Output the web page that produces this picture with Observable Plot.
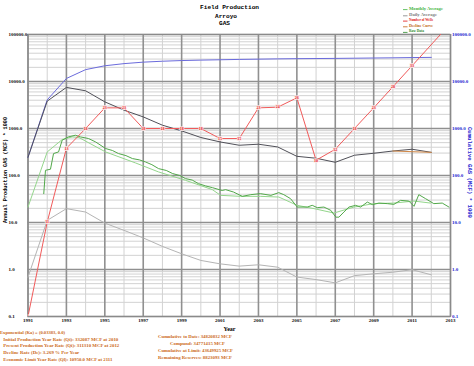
<!DOCTYPE html>
<html><head><meta charset="utf-8">
<script src="https://cdn.jsdelivr.net/npm/d3@7"></script>
<script src="https://cdn.jsdelivr.net/npm/@observablehq/plot@0.6"></script>
<style>
body{margin:0;background:#fff;}
#wrap{position:relative;width:474px;height:366px;overflow:hidden;background:#fff;}
#wrap svg{position:absolute;left:0;top:0;}
</style></head><body><div id="wrap"></div>
<script>
// ---- data ----
const years = [1991,1992,1993,1994,1995,1996,1997,1998,1999,2000,2001,2002,2003,2004,2005,2006,2007,2008,2009,2010,2011,2012];
const annualProd = [244,3820,7490,6340,3690,2455,1766,1176,889,643,518,440,463,405,256,233,191,270,297,332,362,311];
const cumulative = [244,4060,11600,17900,21600,24000,25800,27000,27900,28500,29000,29500,29900,30300,30600,30800,31000,31300,31600,31900,32300,32600];
const dailyAvg = [0.685,11.1,19.7,16.7,9.7,6.8,4.7,3.1,2.16,1.56,1.32,1.18,1.26,1.12,0.69,0.61,0.52,0.74,0.81,0.875,0.99,0.77];
const wellYears = [1991,1992,1993,1994,1995,1996,1997,1998,1999,2000,2001,2002,2003,2004,2005,2006,2007,2008,2009,2010,2011,2013];
const wellPlot = [0.1,10.2,380,1000,2750,2750,1000,1000,1000,1000,612,612,2750,2840,4490,211,362,1000,2750,7710,21600,172000];
const wellLabels = ["1","11","13","18","23","23","18","18","18","18","15","15","23","24","26","10","12","18","23","28","33",""];
const monthlyT = [1991.0,1992.0,1992.78,1993.3,1993.65,1995.04,1996.6,1997.8,1999.2,2000.6,2001.03,2002.07,2003.1,2004.06,2005.02,2005.9,2006.93,2007.97,2009.0,2010.05,2011.1,2011.96];
const monthlyAvg = [21.3,317,582,662,643,317,185,119,79,50,37.8,36.0,36.0,34.8,23.2,19.7,15.9,21.3,25.2,25.9,28.6,25.9];
const rawT = [1991.82,1991.91,1992.17,1992.33,1992.59,1992.78,1993.1,1993.47,1993.73,1994.15,1994.52,1995.04,1995.4,1995.71,1996.1,1996.44,1996.8,1997.12,1997.45,1997.8,1998.2,1998.53,1998.9,1999.2,1999.55,1999.88,2000.25,2000.61,2001.11,2001.29,2001.7,2002.16,2002.6,2003.1,2003.65,2004.06,2004.32,2004.67,2005.02,2005.54,2005.8,2006.06,2006.41,2006.77,2007.03,2007.19,2007.45,2007.71,2008.06,2008.32,2008.67,2008.93,2009.27,2009.71,2010.05,2010.4,2010.83,2011.1,2011.35,2011.7,2012.13,2012.57,2012.92];
const rawData = [41.1,129,136,293,317,563,662,720,662,612,518,375,340,293,265,229,215,194,170,140,128,110,100,86,80,67,60,55,48,50,44.5,36,39.1,41.1,37.8,43.2,39.1,32.2,21.3,21.3,23.2,20.7,21.3,18.1,13.0,13.0,16.7,21.3,23.2,21.3,27.2,24.0,25.9,25.2,24.3,29.6,28.6,22.1,39.1,32.2,25.2,25.9,21.3];
const declineYears = [2010,2011,2012];
const declineRate = [332.1,321.2,310.7];
const yTicks = [0.1,1,10,100,1000,10000,100000];
const yTickLabels = ["0.1","1.0","10.0","100.0","1000.0","10000.0","100000.0"];
const xTickYears = [1991,1993,1995,1997,1999,2001,2003,2005,2007,2009,2011,2013];
const legendItems = ["Monthly Average","Daily Average","Number of Wells","Decline Curve","Raw Data"];
const titleLines = ["Field Production","Arroyo","GAS"];
const leftNotes = ["Exponential  (Ka) = (0.03383, 0.0)","Initial Production Year Rate (Qi): 332087 MCF at 2010","Present Production Year Rate (Qi): 311310 MCF at 2012","Decline Rate (De): 3.269 % Per Year","Economic Limit Year Rate (Ql): 10950.0 MCF at 2111"];
const rightNotes = ["Cumulative to Date: 34820832 MCF","Compund: 34771415 MCF","Cumulative at Limit: 43649925 MCF","Remaining Reserves: 8823093 MCF"];

// ---- tables ----
const rows = (xs, ys) => xs.map((x, i) => ({x, v: ys[i]}));
const allYears = d3.range(1991, 2014);
const minorY = [];
for (const d of [0.1,1,10,100,1000,10000]) for (let k = 2; k <= 9; k++) minorY.push(d*k);
const wells = wellYears.map((x, i) => ({x, v: wellPlot[i], label: wellLabels[i]}));

const serif = "Liberation Serif, Times New Roman, serif";
const chart = Plot.plot({
  width: 474, height: 366,
  marginLeft: 27.5, marginRight: 24, marginTop: 34, marginBottom: 50,
  x: {domain: [1991, 2013], axis: null},
  y: {type: "log", domain: [0.1, 100000], axis: null},
  style: {background: "white", overflow: "visible"},
  marks: [
    Plot.ruleX(allYears.filter(d => d % 2 === 0), {stroke: "#d2d2d2", strokeWidth: 1}),
    Plot.ruleY(minorY, {stroke: "#d2d2d2", strokeWidth: 1}),
    Plot.ruleX(allYears.filter(d => d % 2 === 1), {stroke: "#909090", strokeWidth: 1.6}),
    Plot.ruleY(yTicks, {stroke: "#909090", strokeWidth: 1.6}),
    Plot.frame({stroke: "#8a8a8a", strokeWidth: 1.2}),
    Plot.line(rows(years, dailyAvg), {x: "x", y: "v", stroke: "#b4b4b4", strokeWidth: 1}),
    Plot.line(rows(monthlyT, monthlyAvg), {x: "x", y: "v", stroke: "#94d68c", strokeWidth: 1}),
    Plot.line(rows(rawT, rawData), {x: "x", y: "v", stroke: "#52a84a", strokeWidth: 1}),
    Plot.line(rows(years, cumulative), {x: "x", y: "v", stroke: "#6b6bdc", strokeWidth: 1}),
    Plot.line(rows(years, annualProd), {x: "x", y: "v", stroke: "#505058", strokeWidth: 1}),
    Plot.line(rows(declineYears, declineRate), {x: "x", y: "v", stroke: "#d08848", strokeWidth: 1}),
    Plot.line(wells, {x: "x", y: "v", stroke: "#f05a5a", strokeWidth: 1, clip: true}),
    Plot.text(wells, {x: "x", y: "v", text: "label", fill: "#e01818", fontSize: 4, fontWeight: "bold", fontFamily: serif, stroke: "#ffe8e8", strokeWidth: 1.5, clip: true}),
    Plot.text(yTicks, {y: d => d, text: (d, i) => yTickLabels[i], frameAnchor: "left", textAnchor: "start", dx: -19.5, fontSize: 5, fontWeight: "bold", fontFamily: serif, fill: "#111"}),
    Plot.text(yTicks, {y: d => d, text: (d, i) => yTickLabels[i], frameAnchor: "right", textAnchor: "start", dx: 1.5, fontSize: 5, fontWeight: "bold", fontFamily: serif, fill: "#2424d0"}),
    Plot.text(xTickYears, {x: d => d, text: d => String(d), frameAnchor: "bottom", dy: 5.5, fontSize: 5, fontWeight: "bold", fontFamily: serif, fill: "#111"})
  ]
});
document.getElementById("wrap").appendChild(chart);

// ---- annotations ----
const svg = d3.select("#wrap").append("svg").attr("width", 474).attr("height", 366).style("pointer-events", "none");
const mono = "Liberation Mono, DejaVu Sans Mono, monospace";
function txt(s, x, y, o) {
  const t = svg.append("text").attr("x", x).attr("y", y).text(s)
    .attr("font-family", o.font || serif).attr("font-weight", "bold")
    .attr("font-size", o.size).attr("fill", o.fill || "#000");
  if (o.len) t.attr("textLength", o.len).attr("lengthAdjust", "spacingAndGlyphs");
  if (o.anchor) t.attr("text-anchor", o.anchor);
  if (o.rot) t.attr("transform", `rotate(${o.rot},${x},${y})`).attr("dominant-baseline", "central");
  return t;
}
const titlePos = [[200, 9.4, 59], [215, 17.6, 22], [219, 25.3, 11]];
titleLines.forEach((s, i) => txt(s, titlePos[i][0], titlePos[i][1], {font: mono, size: 6, len: titlePos[i][2]}));

const legColors = ["#3fb33f", "#808080", "#e01010", "#c06010", "#2a8a2a"];
const legLen = [34, 28, 24, 24, 15];
const legY = [9.6, 15.8, 21.1, 26.8, 32.4];
legendItems.forEach((s, i) => {
  svg.append("line").attr("x1", 403).attr("x2", 407.5).attr("y1", legY[i]).attr("y2", legY[i]).attr("stroke", legColors[i]).attr("stroke-width", 0.8);
  txt(s, 409, legY[i], {size: 4.6, fill: legColors[i], len: legLen[i]});
});

txt("Annual Production GAS (MCF) * 1000", 5.5, 170, {font: mono, size: 5.5, rot: -90, anchor: "middle", len: 106});
txt("Cumulative GAS (MCF) * 1000", 469.5, 172.5, {font: mono, size: 5.5, rot: 90, anchor: "middle", len: 91, fill: "#2424d0"});
txt("Year", 229.5, 331, {size: 5.5, anchor: "middle", len: 12});

const noteColor = "#cc6a1a";
const lnX = [0, 3.3, 3.3, 3.3, 3.3];
const lnLen = [65, 115, 116, 76, 109];
const lnY = [333.8, 340.5, 347.4, 354.1, 361];
leftNotes.forEach((s, i) => txt(s, lnX[i], lnY[i], {size: 4.8, fill: noteColor, len: lnLen[i]}));
const rnCx = [195, 197.5, 195.5, 195];
const rnLen = [74, 55, 75, 74];
const rnY = [338.4, 345, 351.8, 359];
rightNotes.forEach((s, i) => txt(s, rnCx[i], rnY[i], {size: 4.8, fill: noteColor, len: rnLen[i], anchor: "middle"}));
</script></body></html>
